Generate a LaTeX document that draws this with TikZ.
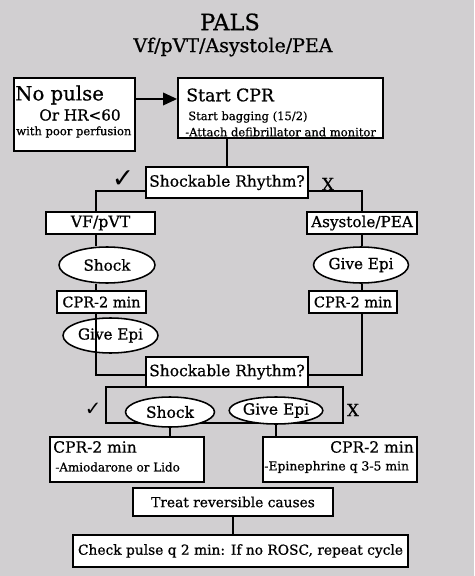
\documentclass[tikz,border=0pt]{standalone}
\usepackage{fontspec}
\setmainfont{DejaVu Serif}[UprightFeatures={FakeBold=0.7}]
\newfontfamily\symfont{DejaVu Sans}
\usetikzlibrary{shapes.geometric,calc,arrows.meta}
\definecolor{bggray}{RGB}{209,207,209}
\newcommand{\pxl}{0.025cm}
\newcommand{\fs}[1]{\fontsize{#1}{#1}\selectfont}
\tikzset{
  box/.style={draw,fill=white,line width=1.3pt,inner sep=0pt},
  oval/.style={ellipse,draw,fill=white,line width=1.1pt,inner sep=0pt},
  link/.style={line width=1.1pt},
  txt/.style={inner sep=0pt},
}

\begin{document}
\begin{tikzpicture}[x=0.025cm,y=-0.025cm]
\fill[bggray] (0,0) rectangle (474,576);
\useasboundingbox (0,0) rectangle (474,576);
\coordinate (lc) at (96,0);
\coordinate (rc) at (362,0);
% title
\node[txt,font=\fs{16}] (title) at (230,22) {PALS};
\node[txt,font=\fs{13.5}] (subtitle) at (233,47) {Vf/pVT/Asystole/PEA};
% top boxes
\node[box,minimum width=121*\pxl,minimum height=73*\pxl] (nopulse) at (74.5,114.5) {};
\node[txt,anchor=west,font=\fs{14}] (np1) at (15,95) {No pulse};
\node[txt,font=\fs{10.8}] (np2) at (80,115) {Or HR<60};
\node[txt,anchor=west,font=\fs{8.2}] (np3) at (16,132) {with poor perfusion};
\node[box,minimum width=205*\pxl,minimum height=60*\pxl] (startcpr) at (280.5,108) {};
\node[txt,anchor=west,font=\fs{12.3}] (sc1) at (186,95) {Start CPR};
\node[txt,anchor=west,font=\fs{8.2}] (sc2) at (188,117) {Start bagging (15/2)};
\node[txt,anchor=west,font=\fs{8.2}] (sc3) at (185,132) {-Attach defibrillator and monitor};
\coordinate (a1) at (0,99);
\draw[link,-{Triangle[length=10pt,width=9pt]}] (nopulse.east |- a1) -- (startcpr.west |- a1);
% first decision
\node[box,minimum width=162*\pxl,minimum height=31*\pxl,font=\fs{11}] (dec1) at (227,182.5) {Shockable Rhythm?};
\draw[link] (dec1.north) -- (dec1.north |- startcpr.south);
\node[box,minimum width=109*\pxl,minimum height=22*\pxl,font=\fs{11.2}] (vf) at (100.5,223) {VF/pVT};
\node[box,minimum width=110*\pxl,minimum height=22*\pxl,font=\fs{10.8}] (asy) at (362,223) {Asystole/PEA};
\node[txt,font=\symfont\fs{19}] (yes1) at (123,179) {✓};
\node[txt,font=\fs{12}] (no1) at (328,184) {X};
\coordinate (b1) at (0,191);
\draw[link] (dec1.west |- b1) -| (lc |- vf.north);
\draw[link] (dec1.east |- b1) -| (rc |- asy.north);
% left column
\node[oval,minimum width=96*\pxl,minimum height=36*\pxl,font=\fs{10.8}] (shock1) at (107,265) {Shock};
\node[box,minimum width=89*\pxl,minimum height=22*\pxl,font=\fs{10.3}] (cprl) at (101.5,302) {CPR-2 min};
\node[oval,minimum width=95*\pxl,minimum height=35*\pxl,font=\fs{10.8}] (epil) at (110.5,335.5) {Give Epi};
% right column
\node[oval,minimum width=95*\pxl,minimum height=36*\pxl,font=\fs{10.8}] (epir) at (361,265) {Give Epi};
\node[box,minimum width=88*\pxl,minimum height=22*\pxl,font=\fs{10.3}] (cprr) at (353,302) {CPR-2 min};
% second decision
\draw[link] (106,387) rectangle (343,423);
\node[box,minimum width=162*\pxl,minimum height=30*\pxl,font=\fs{11}] (dec2) at (227,372) {Shockable Rhythm?};
\draw[link] (lc |- vf.south) -- (lc |- shock1.north);
\draw[link] (lc |- shock1.south) -- (lc |- cprl.north);
\draw[link] (lc |- cprl.south) -- (lc |- epil.south);
\coordinate (c1) at (0,375);
\draw[link] (lc |- epil.south) |- (dec2.west |- c1);
\draw[link] (rc |- asy.south) -- (rc |- epir.north);
\draw[link] (rc |- epir.south) -- (rc |- cprr.north);
\draw[link] (rc |- cprr.south) |- (dec2.east |- c1);
\node[oval,minimum width=89*\pxl,minimum height=30*\pxl,font=\fs{11}] (shock2) at (170,412) {Shock};
\node[oval,minimum width=89*\pxl,minimum height=27*\pxl,font=\fs{11}] (epi2) at (276,410.5) {Give Epi};
\node[txt,font=\symfont\fs{14}] (yes2) at (93,409) {✓};
\node[txt,font=\fs{12}] (no2) at (353,410) {X};
% drug boxes
\node[box,minimum width=154*\pxl,minimum height=45*\pxl] (cpra) at (127,459.5) {};
\node[txt,anchor=west,font=\fs{11}] (cpra1) at (53,447) {CPR-2 min};
\node[txt,anchor=west,font=\fs{8.5}] (cpra2) at (55,467) {-Amiodarone or Lido};
\node[box,minimum width=154*\pxl,minimum height=45*\pxl] (cpre) at (340,459.5) {};
\node[txt,anchor=east,font=\fs{11}] (cpre1) at (414,447) {CPR-2 min};
\node[txt,anchor=west,font=\fs{8.8}] (cpre2) at (264,467) {-Epinephrine q 3-5 min};
\draw[link] (shock2.south) -- (shock2.south |- cpra.north);
\draw[link] (epi2.south) -- (epi2.south |- cpre.north);
% bottom
\node[box,minimum width=200*\pxl,minimum height=28*\pxl,font=\fs{9.8}] (treat) at (233,502) {Treat reversible causes};
\node[box,minimum width=335*\pxl,minimum height=32*\pxl,font=\fs{9.8}] (check) at (240.5,551) {Check pulse q 2 min: If no ROSC, repeat cycle};
\draw[link] (treat.south) -- (treat.south |- check.north);
\end{tikzpicture}
\end{document}
